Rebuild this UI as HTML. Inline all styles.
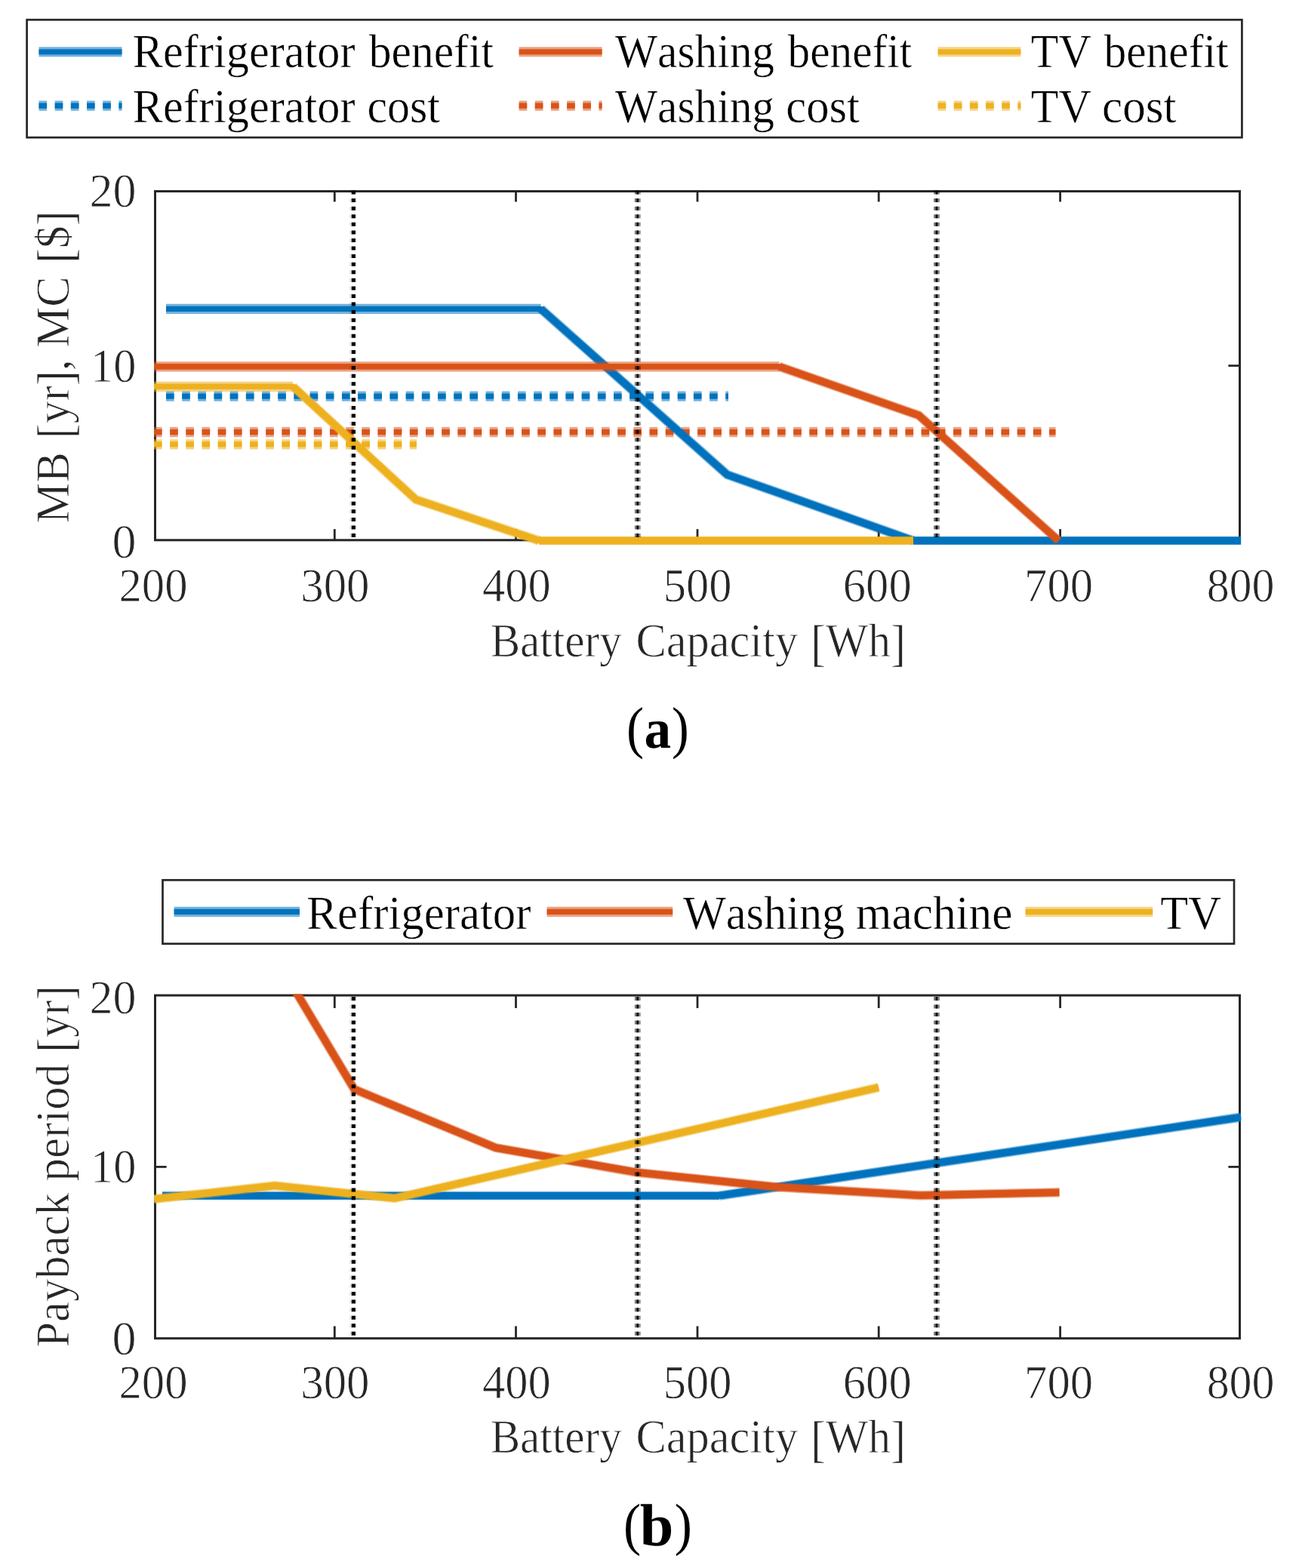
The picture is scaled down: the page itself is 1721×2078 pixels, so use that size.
<!DOCTYPE html>
<html lang="en"><head><meta charset="utf-8"><title>Figure</title>
<style>
html,body{margin:0;padding:0;background:#fff;overflow:hidden}
svg{display:block;font-family:"Liberation Serif",serif;font-kerning:none;font-variant-ligatures:common-ligatures;text-rendering:geometricPrecision}
text{stroke:#fff;stroke-width:.5px;stroke-linejoin:round}
text.g{stroke-width:.8px}
text.b{stroke:none}
</style></head><body>
<svg width="1721" height="2078" viewBox="0 0 1721 2078">
<rect width="1721" height="2078" fill="#fff"/>
<rect x="35.6" y="26.2" width="1609.8" height="156" fill="#fff" stroke="#262626" stroke-width="2.7"/>
<g fill="none" stroke="#0072BD" stroke-linejoin="miter"><polyline points="51.5,68.75 161.5,68.75" stroke-width="13.2" stroke-opacity="0.55"/><polyline points="51.5,68.75 161.5,68.75" stroke-width="7.2"/></g>
<g fill="none" stroke="#0072BD" stroke-linejoin="miter" stroke-dasharray="10.6 10.58"><polyline points="51.5,140.2 161.5,140.2" stroke-width="13.2" stroke-opacity="0.55"/><polyline points="51.5,140.2 161.5,140.2" stroke-width="7.2"/></g>
<g fill="none" stroke="#D95319" stroke-linejoin="miter"><polyline points="687.6,68.75 797.6,68.75" stroke-width="13.2" stroke-opacity="0.55"/><polyline points="687.6,68.75 797.6,68.75" stroke-width="7.2"/></g>
<g fill="none" stroke="#D95319" stroke-linejoin="miter" stroke-dasharray="10.6 10.58"><polyline points="687.6,140.2 797.6,140.2" stroke-width="13.2" stroke-opacity="0.55"/><polyline points="687.6,140.2 797.6,140.2" stroke-width="7.2"/></g>
<g fill="none" stroke="#EDB120" stroke-linejoin="miter"><polyline points="1242.6,68.75 1352.4,68.75" stroke-width="13.2" stroke-opacity="0.55"/><polyline points="1242.6,68.75 1352.4,68.75" stroke-width="7.2"/></g>
<g fill="none" stroke="#EDB120" stroke-linejoin="miter" stroke-dasharray="10.6 10.58"><polyline points="1242.6,140.2 1352.4,140.2" stroke-width="13.2" stroke-opacity="0.55"/><polyline points="1242.6,140.2 1352.4,140.2" stroke-width="7.2"/></g>
<text font-size="63" fill="#000"><tspan x="175.84" y="88.6" textLength="294.69" lengthAdjust="spacingAndGlyphs">Refrigerator</tspan> <tspan x="488.7" y="88.6" textLength="165.28" lengthAdjust="spacingAndGlyphs">benefit</tspan></text>
<text font-size="63" fill="#000"><tspan x="175.84" y="161.9" textLength="294.69" lengthAdjust="spacingAndGlyphs">Refrigerator</tspan> <tspan x="486.46" y="161.9" textLength="96.4" lengthAdjust="spacingAndGlyphs">cost</tspan></text>
<text font-size="63" fill="#000"><tspan x="815" y="88.6" textLength="211.07" lengthAdjust="spacingAndGlyphs">Washing</tspan> <tspan x="1043.6" y="88.6" textLength="164.58" lengthAdjust="spacingAndGlyphs">benefit</tspan></text>
<text font-size="63" fill="#000"><tspan x="815" y="161.9" textLength="211.07" lengthAdjust="spacingAndGlyphs">Washing</tspan> <tspan x="1041.33" y="161.9" textLength="97.63" lengthAdjust="spacingAndGlyphs">cost</tspan></text>
<text font-size="63" fill="#000"><tspan x="1365.85" y="88.6" textLength="79.83" lengthAdjust="spacingAndGlyphs">TV</tspan> <tspan x="1462.4" y="88.6" textLength="165.28" lengthAdjust="spacingAndGlyphs">benefit</tspan></text>
<text font-size="63" fill="#000"><tspan x="1365.85" y="161.9" textLength="79.83" lengthAdjust="spacingAndGlyphs">TV</tspan> <tspan x="1460.11" y="161.9" textLength="98.45" lengthAdjust="spacingAndGlyphs">cost</tspan></text>
<rect x="205.5" y="253.5" width="1437.0" height="462.3" fill="none" stroke="#262626" stroke-width="3"/>
<line x1="443.3" y1="715.8" x2="443.3" y2="701.2" stroke="#262626" stroke-width="2.8"/>
<line x1="443.3" y1="253.5" x2="443.3" y2="267.4" stroke="#262626" stroke-width="2.8"/>
<line x1="683.5" y1="715.8" x2="683.5" y2="701.2" stroke="#262626" stroke-width="2.8"/>
<line x1="683.5" y1="253.5" x2="683.5" y2="267.4" stroke="#262626" stroke-width="2.8"/>
<line x1="924.0" y1="715.8" x2="924.0" y2="701.2" stroke="#262626" stroke-width="2.8"/>
<line x1="924.0" y1="253.5" x2="924.0" y2="267.4" stroke="#262626" stroke-width="2.8"/>
<line x1="1164.2" y1="715.8" x2="1164.2" y2="701.2" stroke="#262626" stroke-width="2.8"/>
<line x1="1164.2" y1="253.5" x2="1164.2" y2="267.4" stroke="#262626" stroke-width="2.8"/>
<line x1="1404.6" y1="715.8" x2="1404.6" y2="701.2" stroke="#262626" stroke-width="2.8"/>
<line x1="1404.6" y1="253.5" x2="1404.6" y2="267.4" stroke="#262626" stroke-width="2.8"/>
<line x1="205.5" y1="484.65" x2="220.6" y2="484.65" stroke="#262626" stroke-width="2.8"/>
<line x1="1642.5" y1="484.65" x2="1627.4" y2="484.65" stroke="#262626" stroke-width="2.8"/>
<text font-size="63" fill="#262626" class="g"><tspan x="157.42" y="796.6" textLength="91.16" lengthAdjust="spacingAndGlyphs">200</tspan></text>
<text font-size="63" fill="#262626" class="g"><tspan x="398.21" y="796.6" textLength="91.38" lengthAdjust="spacingAndGlyphs">300</tspan></text>
<text font-size="63" fill="#262626" class="g"><tspan x="638.99" y="796.6" textLength="90.68" lengthAdjust="spacingAndGlyphs">400</tspan></text>
<text font-size="63" fill="#262626" class="g"><tspan x="878.82" y="796.6" textLength="90.75" lengthAdjust="spacingAndGlyphs">500</tspan></text>
<text font-size="63" fill="#262626" class="g"><tspan x="1116.83" y="796.6" textLength="90.85" lengthAdjust="spacingAndGlyphs">600</tspan></text>
<text font-size="63" fill="#262626" class="g"><tspan x="1357.05" y="796.6" textLength="91.23" lengthAdjust="spacingAndGlyphs">700</tspan></text>
<text font-size="63" fill="#262626" class="g"><tspan x="1598.65" y="796.6" textLength="89.89" lengthAdjust="spacingAndGlyphs">800</tspan></text>
<text font-size="63" fill="#262626" class="g"><tspan x="118.57" y="273.8" textLength="61.96" lengthAdjust="spacingAndGlyphs">20</tspan></text>
<text font-size="63" fill="#262626" class="g"><tspan x="120.12" y="505.8" textLength="60.34" lengthAdjust="spacingAndGlyphs">10</tspan></text>
<text font-size="63" fill="#262626" class="g"><tspan x="148.6" y="738.6" textLength="32" lengthAdjust="spacingAndGlyphs">0</tspan></text>
<text font-size="63" fill="#262626" class="g"><tspan x="649.67" y="870.3" textLength="174.13" lengthAdjust="spacingAndGlyphs">Battery</tspan> <tspan x="842.38" y="870.3" textLength="214.73" lengthAdjust="spacingAndGlyphs">Capacity</tspan> <tspan x="1074.24" y="874.97" font-size="67.7" textLength="19.82" lengthAdjust="spacingAndGlyphs">[</tspan><tspan x="1094.06" y="870.3" textLength="85.93" lengthAdjust="spacingAndGlyphs">Wh</tspan><tspan x="1179.99" y="874.97" font-size="67.7" textLength="19.82" lengthAdjust="spacingAndGlyphs">]</tspan></text>
<text class="g" transform="translate(91.3,0) rotate(-90)" font-size="63" fill="#262626"><tspan x="-693.47" y="0" textLength="94.32" lengthAdjust="spacingAndGlyphs">MB</tspan> <tspan x="-581.2" y="4.67" font-size="67.7" textLength="19.97" lengthAdjust="spacingAndGlyphs">[</tspan><tspan x="-561.23" y="0" textLength="49.95" lengthAdjust="spacingAndGlyphs">yr</tspan><tspan x="-511.27" y="4.67" font-size="67.7" textLength="19.97" lengthAdjust="spacingAndGlyphs">]</tspan><tspan x="-491.3" y="0" textLength="14.99" lengthAdjust="spacingAndGlyphs">,</tspan> <tspan x="-460.87" y="0" textLength="94.64" lengthAdjust="spacingAndGlyphs">MC</tspan> <tspan x="-348.77" y="4.67" font-size="67.7" textLength="19.83" lengthAdjust="spacingAndGlyphs">[</tspan><tspan x="-328.93" y="0" textLength="29.78" lengthAdjust="spacingAndGlyphs">$</tspan><tspan x="-299.15" y="4.67" font-size="67.7" textLength="19.83" lengthAdjust="spacingAndGlyphs">]</tspan></text>
<clipPath id="ca"><rect x="204" y="240" width="1440.2" height="483"/></clipPath>
<g clip-path="url(#ca)">
<g fill="none" stroke="#0072BD" stroke-linejoin="miter" stroke-dasharray="10.6 10.58"><polyline points="220,525.2 965,525.2" stroke-width="13.2" stroke-opacity="0.55"/><polyline points="220,525.2 965,525.2" stroke-width="7.2"/></g>
<g fill="none" stroke="#D95319" stroke-linejoin="miter" stroke-dasharray="10.6 10.58"><polyline points="204,572.6 1398.5,572.6" stroke-width="13.2" stroke-opacity="0.55"/><polyline points="204,572.6 1398.5,572.6" stroke-width="7.2"/></g>
<g fill="none" stroke="#EDB120" stroke-linejoin="miter" stroke-dasharray="10.6 10.58"><polyline points="204,588.8 552,588.8" stroke-width="13.2" stroke-opacity="0.55"/><polyline points="204,588.8 552,588.8" stroke-width="7.2"/></g>
<g fill="none" stroke="#0072BD" stroke-linejoin="miter"><polyline points="220,409.4 716.6,409.4 963.4,629 1210,716.5 1644.5,716.5" stroke-width="7"/><polyline points="220,409.4 716.6,409.4" stroke-width="13.2" stroke-opacity="0.55"/><polyline points="220,409.4 716.6,409.4" stroke-width="7.2"/><polyline points="716.6,409.4 963.4,629 1210,716.5" stroke-width="12.4" stroke-opacity="0.5"/><polyline points="716.6,409.4 963.4,629 1210,716.5" stroke-width="9.6"/><polyline points="1210,716.5 1644.5,716.5" stroke-width="14" stroke-opacity="0.1"/><polyline points="1210,716.5 1644.5,716.5" stroke-width="10.3"/></g>
<g fill="none" stroke="#D95319" stroke-linejoin="miter"><polyline points="204,485.8 1032.4,485.8 1217.2,550.4 1402.5,716.5" stroke-width="7"/><polyline points="204,485.8 1032.4,485.8" stroke-width="13.2" stroke-opacity="0.55"/><polyline points="204,485.8 1032.4,485.8" stroke-width="7.2"/><polyline points="1032.4,485.8 1217.2,550.4 1402.5,716.5" stroke-width="12.4" stroke-opacity="0.5"/><polyline points="1032.4,485.8 1217.2,550.4 1402.5,716.5" stroke-width="9.6"/></g>
<g fill="none" stroke="#EDB120" stroke-linejoin="miter"><polyline points="204,512.3 388.2,512.3 551,662 714,716.5 1210,716.5" stroke-width="7"/><polyline points="204,512.3 388.2,512.3" stroke-width="13.2" stroke-opacity="0.55"/><polyline points="204,512.3 388.2,512.3" stroke-width="7.2"/><polyline points="388.2,512.3 551,662 714,716.5" stroke-width="12.4" stroke-opacity="0.5"/><polyline points="388.2,512.3 551,662 714,716.5" stroke-width="9.6"/><polyline points="714,716.5 1210,716.5" stroke-width="14" stroke-opacity="0.1"/><polyline points="714,716.5 1210,716.5" stroke-width="10.3"/></g>
</g>
<line x1="468.4" y1="252.55" x2="468.4" y2="713.8" stroke="#000" stroke-width="5.3" stroke-dasharray="5 5.57"/>
<line x1="464.5" y1="252.55" x2="464.5" y2="713.8" stroke="#000" stroke-opacity=".12" stroke-width="2.4" stroke-dasharray="5 5.57"/>
<line x1="844.7" y1="252.55" x2="844.7" y2="713.8" stroke="#000" stroke-opacity=".5" stroke-width="7.8" stroke-dasharray="5 5.57"/>
<line x1="844.7" y1="252.55" x2="844.7" y2="713.8" stroke="#000" stroke-width="2.6" stroke-dasharray="5 5.57"/>
<line x1="1240.9" y1="252.55" x2="1240.9" y2="713.8" stroke="#000" stroke-opacity=".5" stroke-width="7.8" stroke-dasharray="5 5.57"/>
<line x1="1240.9" y1="252.55" x2="1240.9" y2="713.8" stroke="#000" stroke-width="2.6" stroke-dasharray="5 5.57"/>
<text class="b" fill="#000"><tspan x="829.96" y="990.37" font-size="76.36" textLength="23.02" lengthAdjust="spacingAndGlyphs">(</tspan><tspan x="853.59" y="991.2" font-size="74.5" font-weight="bold" textLength="35.58" lengthAdjust="spacingAndGlyphs">a</tspan><tspan x="890.08" y="990.37" font-size="76.36" textLength="22.76" lengthAdjust="spacingAndGlyphs">)</tspan></text>
<rect x="215.5" y="1166.3" width="1419.5" height="84.4" fill="#fff" stroke="#262626" stroke-width="2.7"/>
<g fill="none" stroke="#0072BD" stroke-linejoin="miter"><polyline points="230.6,1208.3 397,1208.3" stroke-width="13.2" stroke-opacity="0.55"/><polyline points="230.6,1208.3 397,1208.3" stroke-width="7.2"/></g>
<g fill="none" stroke="#D95319" stroke-linejoin="miter"><polyline points="724.6,1208.3 891.2,1208.3" stroke-width="13.2" stroke-opacity="0.55"/><polyline points="724.6,1208.3 891.2,1208.3" stroke-width="7.2"/></g>
<g fill="none" stroke="#EDB120" stroke-linejoin="miter"><polyline points="1358.6,1208.3 1527.2,1208.3" stroke-width="13.2" stroke-opacity="0.55"/><polyline points="1358.6,1208.3 1527.2,1208.3" stroke-width="7.2"/></g>
<text font-size="63" fill="#000"><tspan x="406.33" y="1231.2" textLength="297.21" lengthAdjust="spacingAndGlyphs">Refrigerator</tspan></text>
<text font-size="63" fill="#000"><tspan x="904.9" y="1231.2" textLength="214.29" lengthAdjust="spacingAndGlyphs">Washing</tspan> <tspan x="1133.77" y="1231.2" textLength="207.76" lengthAdjust="spacingAndGlyphs">machine</tspan></text>
<text font-size="63" fill="#000"><tspan x="1537.34" y="1231.2" textLength="80.44" lengthAdjust="spacingAndGlyphs">TV</tspan></text>
<rect x="205.5" y="1319.1" width="1437.0" height="454.6" fill="none" stroke="#262626" stroke-width="3"/>
<line x1="443.3" y1="1773.7" x2="443.3" y2="1757.5" stroke="#262626" stroke-width="2.8"/>
<line x1="443.3" y1="1319.1" x2="443.3" y2="1336" stroke="#262626" stroke-width="2.8"/>
<line x1="683.5" y1="1773.7" x2="683.5" y2="1757.5" stroke="#262626" stroke-width="2.8"/>
<line x1="683.5" y1="1319.1" x2="683.5" y2="1336" stroke="#262626" stroke-width="2.8"/>
<line x1="924.0" y1="1773.7" x2="924.0" y2="1757.5" stroke="#262626" stroke-width="2.8"/>
<line x1="924.0" y1="1319.1" x2="924.0" y2="1336" stroke="#262626" stroke-width="2.8"/>
<line x1="1164.2" y1="1773.7" x2="1164.2" y2="1757.5" stroke="#262626" stroke-width="2.8"/>
<line x1="1164.2" y1="1319.1" x2="1164.2" y2="1336" stroke="#262626" stroke-width="2.8"/>
<line x1="1404.6" y1="1773.7" x2="1404.6" y2="1757.5" stroke="#262626" stroke-width="2.8"/>
<line x1="1404.6" y1="1319.1" x2="1404.6" y2="1336" stroke="#262626" stroke-width="2.8"/>
<line x1="205.5" y1="1546.4" x2="220.6" y2="1546.4" stroke="#262626" stroke-width="2.8"/>
<line x1="1642.5" y1="1546.4" x2="1627.4" y2="1546.4" stroke="#262626" stroke-width="2.8"/>
<text font-size="63" fill="#262626" class="g"><tspan x="157.42" y="1853.3" textLength="91.16" lengthAdjust="spacingAndGlyphs">200</tspan></text>
<text font-size="63" fill="#262626" class="g"><tspan x="398.21" y="1853.3" textLength="91.38" lengthAdjust="spacingAndGlyphs">300</tspan></text>
<text font-size="63" fill="#262626" class="g"><tspan x="638.99" y="1853.3" textLength="90.68" lengthAdjust="spacingAndGlyphs">400</tspan></text>
<text font-size="63" fill="#262626" class="g"><tspan x="878.82" y="1853.3" textLength="90.75" lengthAdjust="spacingAndGlyphs">500</tspan></text>
<text font-size="63" fill="#262626" class="g"><tspan x="1116.83" y="1853.3" textLength="90.85" lengthAdjust="spacingAndGlyphs">600</tspan></text>
<text font-size="63" fill="#262626" class="g"><tspan x="1357.05" y="1853.3" textLength="91.23" lengthAdjust="spacingAndGlyphs">700</tspan></text>
<text font-size="63" fill="#262626" class="g"><tspan x="1598.65" y="1853.3" textLength="89.89" lengthAdjust="spacingAndGlyphs">800</tspan></text>
<text font-size="63" fill="#262626" class="g"><tspan x="118.57" y="1342.8" textLength="61.96" lengthAdjust="spacingAndGlyphs">20</tspan></text>
<text font-size="63" fill="#262626" class="g"><tspan x="120.12" y="1567.2" textLength="60.34" lengthAdjust="spacingAndGlyphs">10</tspan></text>
<text font-size="63" fill="#262626" class="g"><tspan x="148.6" y="1795.2" textLength="32" lengthAdjust="spacingAndGlyphs">0</tspan></text>
<text font-size="63" fill="#262626" class="g"><tspan x="649.67" y="1925" textLength="174.13" lengthAdjust="spacingAndGlyphs">Battery</tspan> <tspan x="842.38" y="1925" textLength="214.73" lengthAdjust="spacingAndGlyphs">Capacity</tspan> <tspan x="1074.24" y="1929.67" font-size="67.7" textLength="19.82" lengthAdjust="spacingAndGlyphs">[</tspan><tspan x="1094.06" y="1925" textLength="85.93" lengthAdjust="spacingAndGlyphs">Wh</tspan><tspan x="1179.99" y="1929.67" font-size="67.7" textLength="19.82" lengthAdjust="spacingAndGlyphs">]</tspan></text>
<text class="g" transform="translate(91.3,0) rotate(-90)" font-size="63" fill="#262626"><tspan x="-1785.56" y="0" textLength="205.08" lengthAdjust="spacingAndGlyphs">Payback</tspan> <tspan x="-1565.41" y="0" textLength="155.56" lengthAdjust="spacingAndGlyphs">period</tspan> <tspan x="-1394.64" y="4.67" font-size="67.7" textLength="19.71" lengthAdjust="spacingAndGlyphs">[</tspan><tspan x="-1374.93" y="0" textLength="49.3" lengthAdjust="spacingAndGlyphs">yr</tspan><tspan x="-1325.63" y="4.67" font-size="67.7" textLength="19.71" lengthAdjust="spacingAndGlyphs">]</tspan></text>
<clipPath id="cb"><rect x="204" y="1317.6" width="1440.2" height="470"/></clipPath>
<g clip-path="url(#cb)">
<g fill="none" stroke="#0072BD" stroke-linejoin="miter"><polyline points="215,1584.6 953.5,1584.6 1644.5,1480.5" stroke-width="7"/><polyline points="215,1584.6 953.5,1584.6" stroke-width="14" stroke-opacity="0.1"/><polyline points="215,1584.6 953.5,1584.6" stroke-width="10.3"/><polyline points="953.5,1584.6 1644.5,1480.5" stroke-width="12.4" stroke-opacity="0.5"/><polyline points="953.5,1584.6 1644.5,1480.5" stroke-width="9.6"/></g>
<g fill="none" stroke="#D95319" stroke-linejoin="miter"><polyline points="383.5,1300 469.3,1443.5 656.6,1521 844,1553.8 1031.5,1573.3 1219,1584.2 1403.5,1580.3" stroke-width="12.4" stroke-opacity="0.5"/><polyline points="383.5,1300 469.3,1443.5 656.6,1521 844,1553.8 1031.5,1573.3 1219,1584.2 1403.5,1580.3" stroke-width="9.6"/></g>
<g fill="none" stroke="#EDB120" stroke-linejoin="miter"><polyline points="204,1589 364,1571.3 523,1588 1164.1,1441.1" stroke-width="12.4" stroke-opacity="0.5"/><polyline points="204,1589 364,1571.3 523,1588 1164.1,1441.1" stroke-width="9.6"/></g>
</g>
<line x1="468.4" y1="1320.9" x2="468.4" y2="1771.7" stroke="#000" stroke-width="5.3" stroke-dasharray="5 5.57"/>
<line x1="464.5" y1="1320.9" x2="464.5" y2="1771.7" stroke="#000" stroke-opacity=".12" stroke-width="2.4" stroke-dasharray="5 5.57"/>
<line x1="844.7" y1="1320.9" x2="844.7" y2="1771.7" stroke="#000" stroke-opacity=".5" stroke-width="7.8" stroke-dasharray="5 5.57"/>
<line x1="844.7" y1="1320.9" x2="844.7" y2="1771.7" stroke="#000" stroke-width="2.6" stroke-dasharray="5 5.57"/>
<line x1="1240.9" y1="1320.9" x2="1240.9" y2="1771.7" stroke="#000" stroke-opacity=".5" stroke-width="7.8" stroke-dasharray="5 5.57"/>
<line x1="1240.9" y1="1320.9" x2="1240.9" y2="1771.7" stroke="#000" stroke-width="2.6" stroke-dasharray="5 5.57"/>
<text class="b" fill="#000"><tspan x="826.05" y="2046.28" font-size="76.8" textLength="23.15" lengthAdjust="spacingAndGlyphs">(</tspan><tspan x="847.8" y="2047.8" font-size="79" font-weight="bold" textLength="44.6" lengthAdjust="spacingAndGlyphs">b</tspan><tspan x="893.84" y="2046.28" font-size="76.8" textLength="23.15" lengthAdjust="spacingAndGlyphs">)</tspan></text>
</svg>
</body></html>
